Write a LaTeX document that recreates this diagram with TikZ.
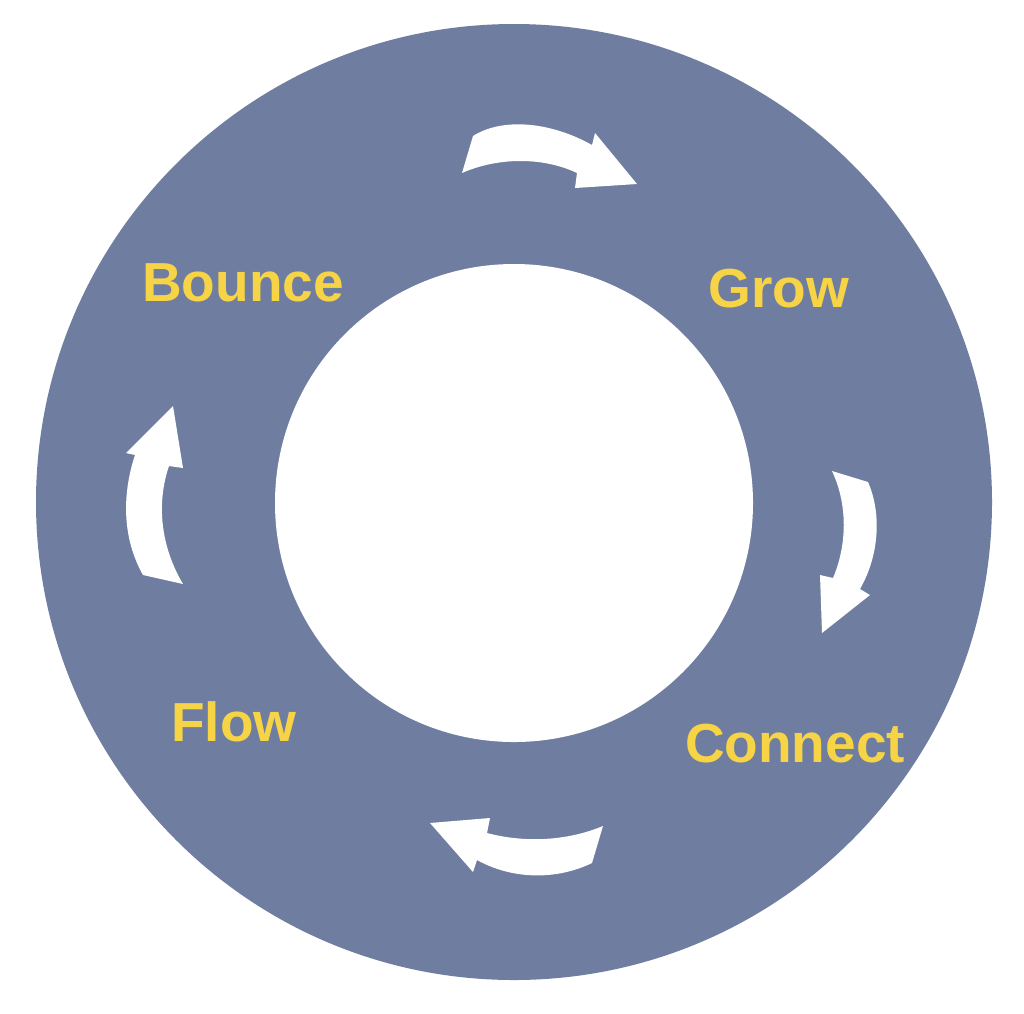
\documentclass[tikz,border=0pt]{standalone}
\usepackage{fontspec}
\setmainfont{Liberation Sans}
\definecolor{ringblue}{RGB}{111,126,160}
\definecolor{labelyellow}{RGB}{246,212,70}
\begin{document}
\begin{tikzpicture}[x=1pt,y=-1pt,
  lbl/.style={anchor=base,inner sep=0pt,text=labelyellow,font=\fontsize{55}{56}\selectfont\bfseries},
  curvarrow/.style={fill=white,draw=none}]
\useasboundingbox (0,0) rectangle (1024,1013);
\fill[white] (0,0) rectangle (1024,1013);
% ring
\fill[ringblue] (514,502) circle[radius=478];
\fill[white] (514,503) circle[radius=239];
% labels
\node[lbl] (bounce) at (243,301) {Bounce};
\node[lbl] (grow) at (779,307) {Grow};
\node[lbl] (connect) at (795,762) {Connect};
\node[lbl] (flow) at (234,741) {Flow};
% top arrow
\fill[curvarrow] (462,173) -- (473,136) .. controls (503,117) and (551,122) .. (592,145)
  -- (595,133) -- (637,184) -- (575,188) -- (577,173)
  .. controls (541,156) and (496,158) .. cycle;
% right arrow
\fill[curvarrow] (832,471) -- (868,482) .. controls (882,514) and (879,556) .. (860,589)
  -- (870,595) -- (822,633) -- (820,575) -- (833,578)
  .. controls (847,545) and (848,505) .. cycle;
% bottom arrow
\fill[curvarrow] (603,826) -- (592,863) .. controls (557,880) and (513,880) .. (477,860)
  -- (473,872) -- (430,823) -- (490,818) -- (487,833)
  .. controls (525,843) and (567,841) .. cycle;
% left arrow
\fill[curvarrow] (183,584) -- (143,575) .. controls (122,538) and (122,494) .. (135,455)
  -- (126,453) -- (173,406) -- (183,468) -- (169,466)
  .. controls (156,504) and (161,547) .. cycle;
\end{tikzpicture}
\end{document}
